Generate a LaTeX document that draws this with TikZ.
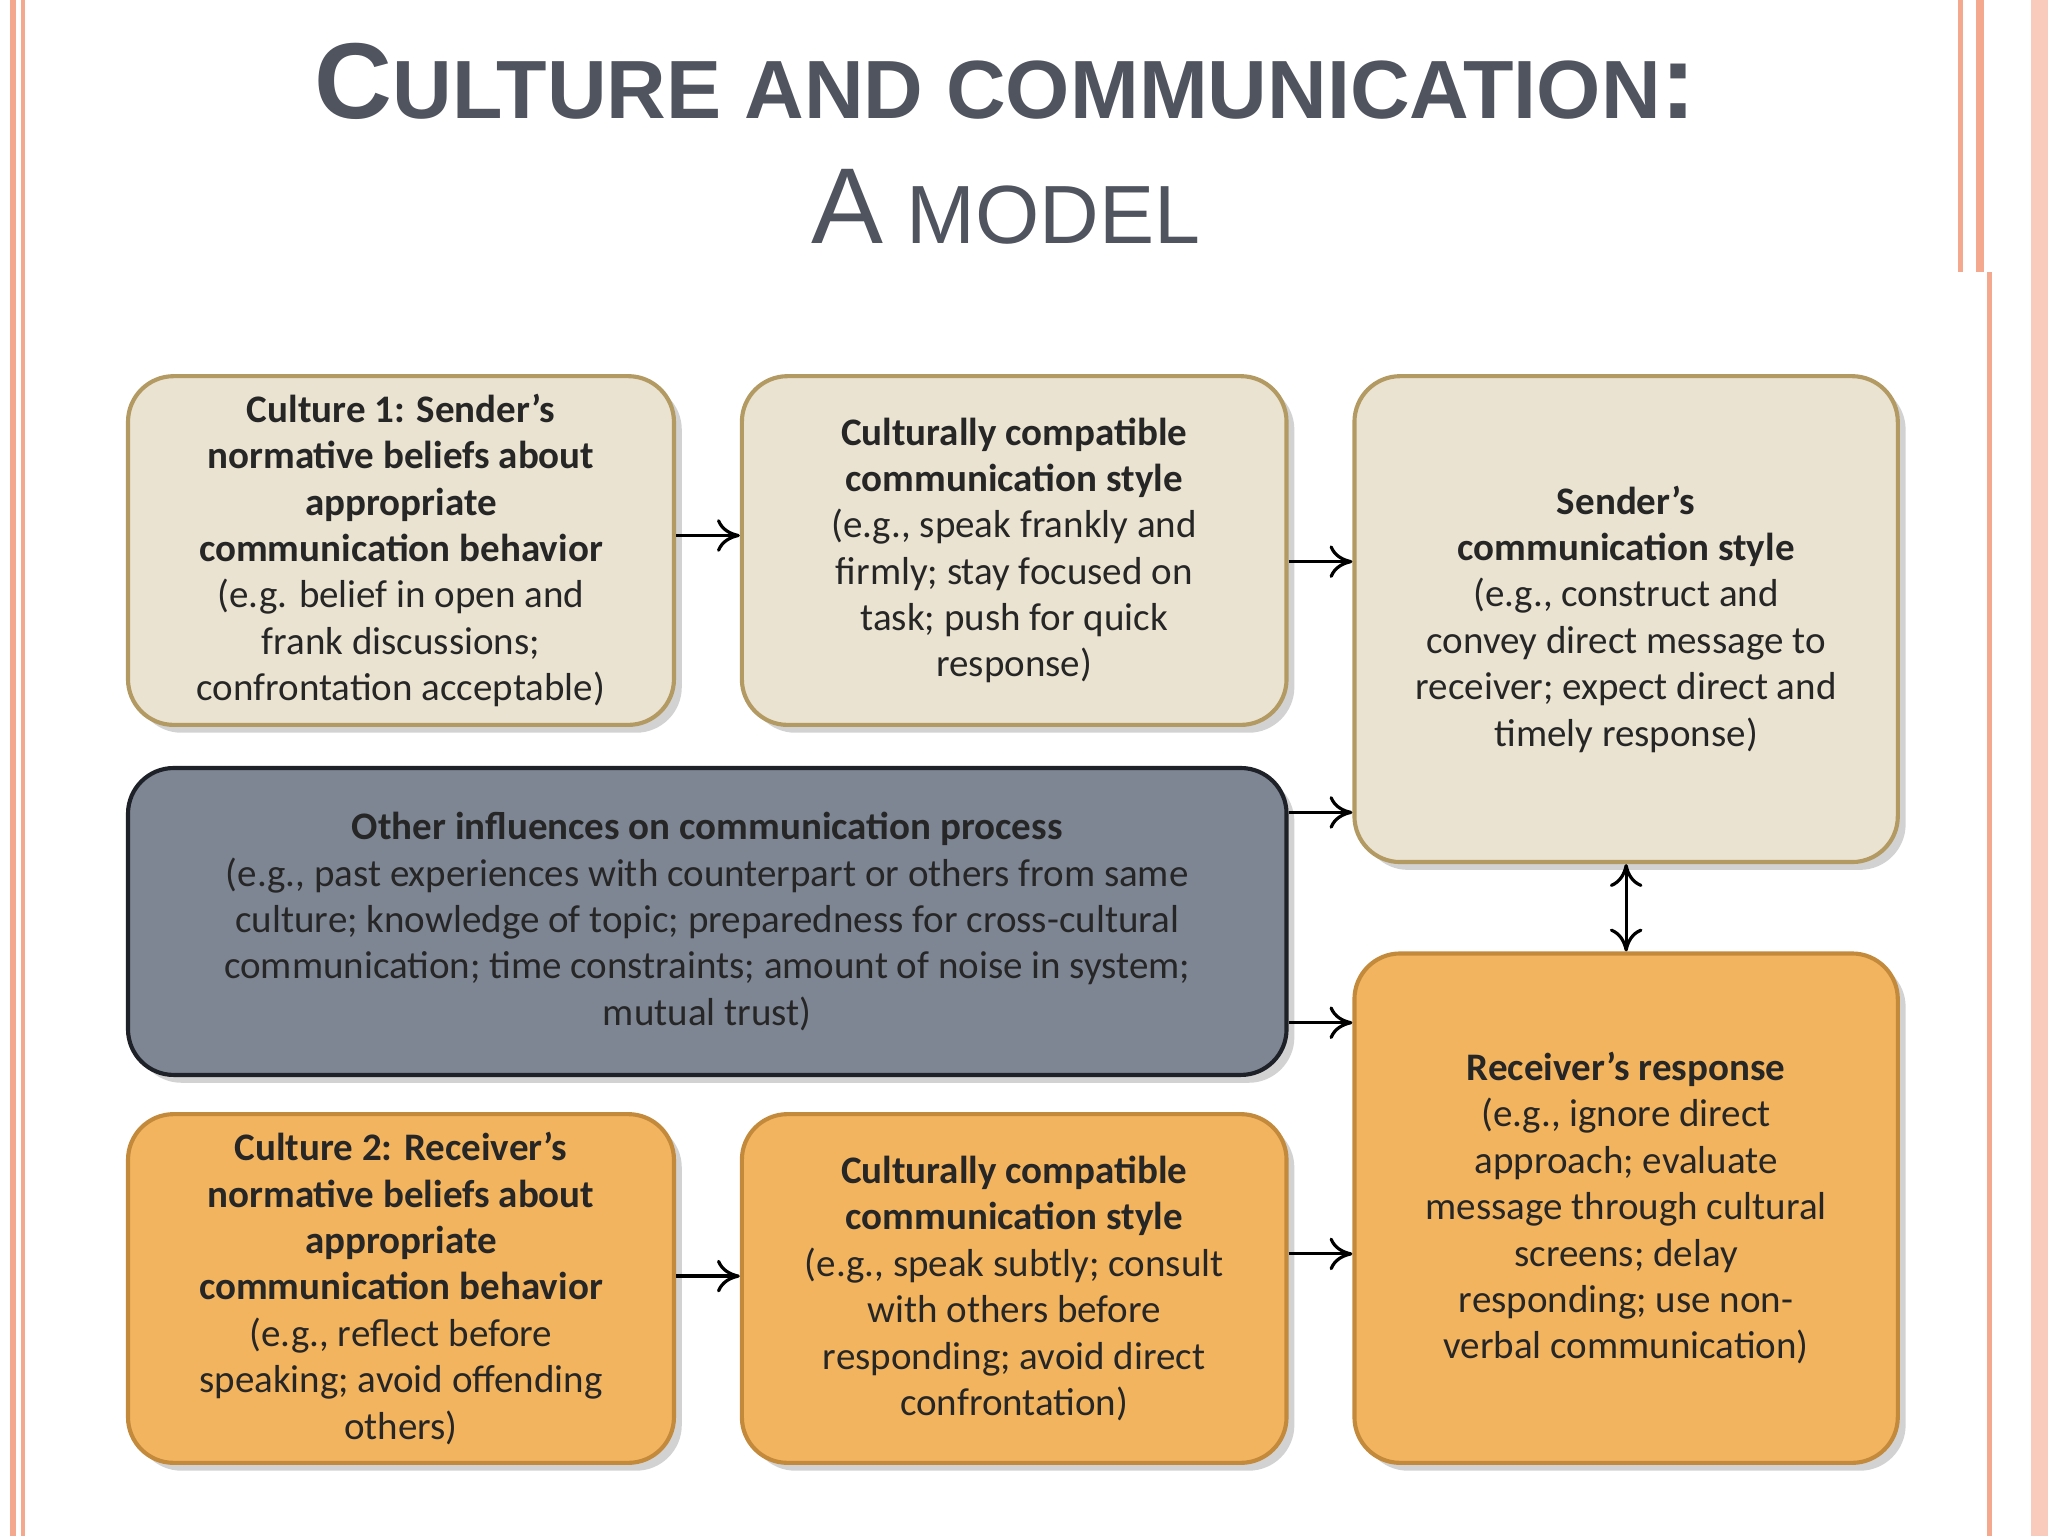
\documentclass[tikz,border=0pt]{standalone}
\usepackage{fontspec}
\setmainfont{Carlito}
\newfontfamily\titlefont{Liberation Sans}
\usetikzlibrary{arrows.meta,shadows}
\definecolor{beigef}{HTML}{EAE3D1}
\definecolor{beiged}{HTML}{B39A62}
\definecolor{orangef}{HTML}{F2B45E}
\definecolor{oranged}{HTML}{C48A3C}
\definecolor{grayf}{HTML}{7E8694}
\definecolor{grayd}{HTML}{1E2228}
\definecolor{titlec}{HTML}{50545F}
\definecolor{pinkc}{HTML}{F4A98F}
\tikzset{
  box/.style={draw, line width=1.8pt, rounded corners=0.7cm, align=center,
    font=\fontsize{17}{20.2}\selectfont, text=black!85,
    drop shadow={shadow xshift=0.12cm, shadow yshift=-0.12cm, fill=black!35}},
  beige/.style={box, fill=beigef, draw=beiged},
  orng/.style={box, fill=orangef, draw=oranged},
  gry/.style={box, fill=grayf, draw=grayd},
  conn/.style={-{To[length=0.35cm,width=0.5cm]}, line width=1.4pt},
}
\begin{document}
\begin{tikzpicture}[x=0.02cm,y=-0.02cm]
\useasboundingbox[fill=white] (0,0) rectangle (1568,1176);
% decorations
\fill[pinkc] (8,0) rectangle (12,1176);
\fill[pinkc] (16,0) rectangle (19,1176);
\fill[pinkc] (1499,0) rectangle (1503,208);
\fill[pinkc] (1513,0) rectangle (1519,208);
\fill[pinkc] (1521,208) rectangle (1525,1176);
\fill[pinkc!60] (1555,0) rectangle (1568,1176);
% title
\node[font=\titlefont\bfseries, text=titlec] (t1) at (770,62)
  {{\fontsize{47}{50}\selectfont C}{\fontsize{36}{40}\selectfont ULTURE AND COMMUNICATION}{\fontsize{47}{50}\selectfont :}};
\node[font=\titlefont, text=titlec] (t2) at (770,158)
  {{\fontsize{47}{50}\selectfont A}{\fontsize{36}{40}\selectfont\ MODEL}};
% boxes
\node[beige, minimum width=418*0.02cm, minimum height=267*0.02cm] (A) at (307,421.5)
 {\textbf{Culture 1: Sender's}\\\textbf{normative beliefs about}\\\textbf{appropriate}\\\textbf{communication behavior}\\(e.g. belief in open and\\frank discussions;\\confrontation acceptable)};
\node[beige, minimum width=417*0.02cm, minimum height=267*0.02cm] (B) at (776.5,421.5)
 {\textbf{Culturally compatible}\\\textbf{communication style}\\(e.g., speak frankly and\\firmly; stay focused on\\task; push for quick\\response)};
\node[beige, minimum width=416*0.02cm, minimum height=372*0.02cm] (C) at (1245,474)
 {\textbf{Sender's}\\\textbf{communication style}\\(e.g., construct and\\convey direct message to\\receiver; expect direct and\\timely response)};
\node[gry, minimum width=887*0.02cm, minimum height=235*0.02cm] (D) at (541.5,705.5)
 {\textbf{Other influences on communication process}\\(e.g., past experiences with counterpart or others from same\\culture; knowledge of topic; preparedness for cross-cultural\\communication; time constraints; amount of noise in system;\\mutual trust)};
\node[orng, minimum width=418*0.02cm, minimum height=267*0.02cm] (E) at (307,986.5)
 {\textbf{Culture 2: Receiver's}\\\textbf{normative beliefs about}\\\textbf{appropriate}\\\textbf{communication behavior}\\(e.g., reflect before\\speaking; avoid offending\\others)};
\node[orng, minimum width=417*0.02cm, minimum height=267*0.02cm] (F) at (776.5,986.5)
 {\textbf{Culturally compatible}\\\textbf{communication style}\\(e.g., speak subtly; consult\\with others before\\responding; avoid direct\\confrontation)};
\node[orng, minimum width=416*0.02cm, minimum height=390*0.02cm] (G) at (1245,925)
 {\textbf{Receiver's response}\\(e.g., ignore direct\\approach; evaluate\\message through cultural\\screens; delay\\responding; use non-\\verbal communication)};
% connectors
\draw[conn] (A.east |- {(0,410)}) -- (B.west |- {(0,410)});
\draw[conn] (B.east |- {(0,430)}) -- (C.west |- {(0,430)});
\draw[conn] (D.east |- {(0,622)}) -- (C.west |- {(0,622)});
\draw[conn] (D.east |- {(0,783)}) -- (G.west |- {(0,783)});
\draw[conn] (E.east |- {(0,977)}) -- (F.west |- {(0,977)});
\draw[conn] (F.east |- {(0,960)}) -- (G.west |- {(0,960)});
\draw[conn, {To[length=0.35cm,width=0.5cm]}-{To[length=0.35cm,width=0.5cm]}] (C.south) -- (G.north);
\end{tikzpicture}
\end{document}
